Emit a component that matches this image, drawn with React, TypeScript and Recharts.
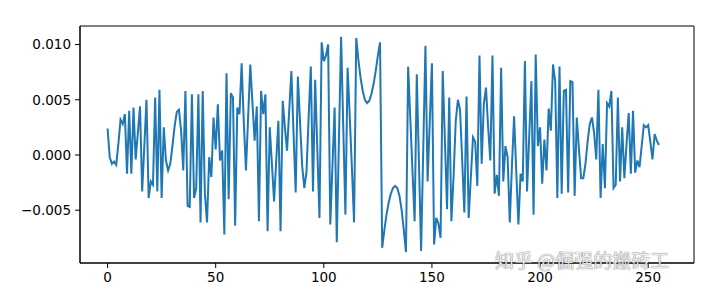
import { LineChart, Line, XAxis, YAxis, ReferenceArea } from "recharts";

// signal samples (index 0..255)
const signal = [
  0.0024, -0.0002, -0.0008, -0.0006, -0.0009, 0.001, 0.0032, 0.0028, 0.0037, -0.0017,
  0.004, -0.0017, 0.0043, -0.0004, 0.002, 0.0044, -0.0033, 0.0008, 0.005, -0.0039,
  -0.0024, -0.0027, 0.0052, -0.0033, 0.0059, -0.0039, 0.0025, -0.0005, -0.0014, -0.0008,
  0.0008, 0.0026, 0.0039, 0.0041, 0.0022, -0.0014, 0.0058, -0.0046, -0.0047, 0.0055,
  -0.0039, -0.003, 0.0055, -0.0061, 0.0058, -0.0035, -0.0061, -0.0002, -0.002, 0.0034,
  0.0005, 0.0046, -0.0005, 0.0004, -0.0072, 0.0074, -0.004, 0.0056, 0.0052, -0.0064,
  0.0043, 0.0037, 0.0083, 0.003, -0.0014, 0.0034, 0.0082, 0.0047, 0.0013, 0.0044,
  -0.006, 0.0058, 0.0037, 0.0055, -0.0069, 0.0025, -0.0008, -0.0042, -0.0005, 0.0031,
  -0.0069, 0.0049, 0.0025, 0.0004, 0.004, 0.0076, 0.002, -0.0034, 0.0071, 0.003,
  -0.001, -0.003, -0.0015, 0.0035, 0.008, -0.0033, 0.0068, 0.0005, -0.0057, 0.0102,
  0.0085, 0.009, 0.01, -0.0063, -0.001, 0.0043, -0.0079, 0.0014, 0.0107, 0.0025,
  -0.0054, 0.0079, 0.0035, -0.0012, -0.0061, 0.0106, 0.0086, 0.007, 0.0058, 0.005,
  0.0047, 0.0049, 0.0055, 0.0064, 0.0076, 0.009, 0.0102, -0.0084, -0.0068, -0.0054,
  -0.0043, -0.0035, -0.003, -0.0028, -0.003, -0.0037, -0.005, -0.0068, -0.0088, 0.008,
  0.0033, -0.0014, -0.006, 0.0073, -0.0007, -0.0087, 0.0006, 0.0099, -0.0024, 0.003,
  0.0083, -0.0081, -0.0057, -0.0062, -0.0075, 0.0076, 0.0013, -0.0049, 0.0052, -0.006,
  -0.002, 0.003, 0.005, 0.0041, -0.0005, -0.0052, 0.0053, -0.0057, -0.002, 0.0016,
  0.0012, -0.0028, 0.009, -0.0008, 0.0046, 0.0061, 0.0025, -0.0005, 0.009, -0.0035,
  -0.0018, -0.0037, 0.0079, -0.0024, 0.0008, -0.0002, -0.0061, -0.001, 0.0035, -0.0015,
  -0.0063, -0.0017, -0.0024, 0.0085, -0.0033, 0.0017, 0.0067, -0.0054, 0.0091, 0.0008,
  0.0025, -0.0026, 0.0014, -0.0014, 0.0042, 0.0022, 0.0082, 0.0067, -0.0039, 0.008,
  -0.0035, 0.0058, 0.0059, -0.0034, 0.0067, 0.0066, -0.0037, 0.0034, 0.0005, -0.0021,
  -0.0021, -0.0008, 0.0012, 0.0028, 0.0034, 0.002, -0.0004, 0.0059, -0.0039, 0.001,
  -0.003, 0.0047, 0.0044, 0.0058, -0.003, -0.0027, 0.0052, -0.0024, 0.0025, -0.0021,
  0.001, 0.0038, -0.0017, 0.004, -0.0016, -0.0005, -0.0011, 0.0008, 0.0027, 0.0025,
  0.0027, 0.0012, -0.0004, 0.0019, 0.0013, 0.0009,
];

const xTicks = [0, 50, 100, 150, 200, 250];
const yTicks = [-0.005, 0, 0.005, 0.01];
const xDomain: [number, number] = [-12.75, 271.2];
const yDomain: [number, number] = [-0.00978, 0.01168];

const data = signal.map((v, i) => ({ n: i, v }));

const fmtY = (v: number) => {
  const s = Math.abs(v).toFixed(3);
  return v < -1e-9 ? "\u2212" + s : s;
};

const font = "DejaVu Sans, sans-serif";
const tickStyle = { fill: "#000", fontSize: 13.5, fontFamily: font };

export default function App() {
  return (
    <div style={{ position: "absolute", left: 0, top: 0, width: 702, height: 287, background: "#fff" }}>
      <LineChart width={702} height={287} data={data} margin={{ top: 26, right: 8, left: 0, bottom: 0 }}>
        <XAxis
          dataKey="n"
          type="number"
          domain={xDomain}
          ticks={xTicks}
          allowDataOverflow
          height={24}
          tickSize={5}
          tickMargin={4}
          stroke="#000"
          tick={tickStyle}
        />
        <YAxis
          type="number"
          domain={yDomain}
          ticks={yTicks}
          allowDataOverflow
          width={80}
          tickSize={5}
          tickMargin={4}
          tickFormatter={fmtY}
          stroke="#000"
          tick={tickStyle}
        />
        <Line dataKey="v" type="linear" stroke="#1f77b4" strokeWidth={2} dot={false} isAnimationActive={false} />
        {/* axes frame */}
        <ReferenceArea
          x1={xDomain[0]}
          x2={xDomain[1]}
          y1={yDomain[0]}
          y2={yDomain[1]}
          fill="none"
          fillOpacity={0}
          stroke="#000"
          strokeWidth={1}
          ifOverflow="visible"
        />
      </LineChart>
      <div
        style={{
          position: "absolute",
          left: 495,
          top: 246,
          fontFamily: "Noto Sans CJK SC, sans-serif",
          fontSize: 19,
          color: "rgba(255,255,255,0.9)",
          textShadow: "0 0 1px rgba(0,0,0,0.45), 0 0 1px rgba(0,0,0,0.45)",
          whiteSpace: "nowrap",
        }}
      >
        知乎 @倔强的搬砖工
      </div>
    </div>
  );
}
